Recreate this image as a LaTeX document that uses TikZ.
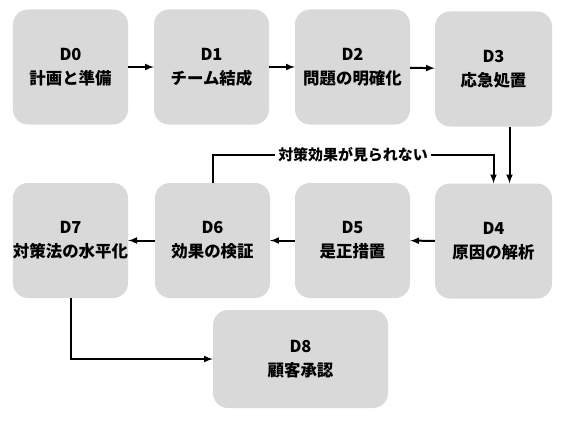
\documentclass[tikz,border=0pt]{standalone}
\usepackage{fontspec}
\setmainfont{Noto Sans CJK JP}
\usetikzlibrary{arrows}
\definecolor{stagegray}{RGB}{217,217,217}
\tikzstyle{stage}=[rounded corners=15bp, fill=stagegray, inner sep=0pt, minimum width=115bp, minimum height=115bp, align=center, font=\fontsize{16.5}{24}\selectfont\bfseries]
\newcommand{\stage}{\node[stage]}

\begin{document}
\begin{tikzpicture}[x=1bp, y=1bp, >=latex
    ,every edge/.style={draw, ->, line width=2bp}
]
\useasboundingbox (0,0) rectangle (567,425);
\stage (d0) at (70.5,358) {D0\\計画と準備};
\stage (d1) at (211.5,358) {D1\\チーム結成};
\stage (d2) at (352.5,358) {D2\\問題の明確化};
\stage[minimum width=117bp] (d3) at (493.5,356) {D3\\応急処置};
\stage[minimum width=117bp] (d4) at (493.5,184) {D4\\原因の解析};
\stage (d5) at (352.5,184.5) {D5\\是正措置};
\stage (d6) at (212.5,184.5) {D6\\効果の検証};
\stage (d7) at (70.5,184.5) {D7\\対策法の水平化};
\stage[minimum width=175bp, minimum height=98bp] (d8) at (300.5,66) {D8\\顧客承認};
\path
(d0) edge (d1)
(d1) edge (d2)
(d2) edge (d3)
([xshift=16bp]d3.south) edge ([xshift=16bp]d4.north)
(d4) edge (d5)
(d5) edge (d6)
(d6) edge (d7)
;
\draw[->, line width=2bp] (d6.north) -- ++(0,28) -| node[pos=0.25, fill=white, inner sep=3bp, font=\fontsize{15}{16}\selectfont\bfseries] {対策効果が見られない} (d4.north);
\draw[->, line width=2bp] (d7.south) |- (d8.west);
\end{tikzpicture}
\end{document}
